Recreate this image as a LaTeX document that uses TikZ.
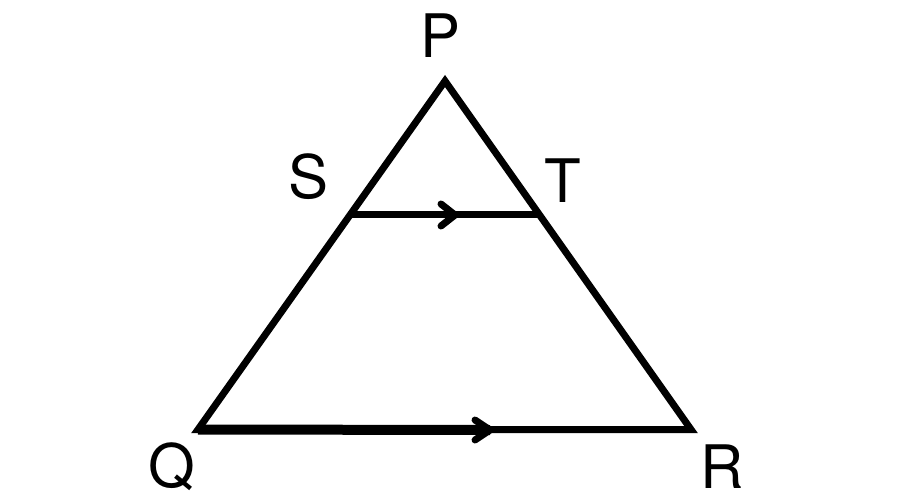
\documentclass[tikz,border=0pt]{standalone}
\usepackage{fontspec}
\setmainfont{TeX Gyre Heros}
\begin{document}
\begin{tikzpicture}[x=1pt,y=-1pt,
  side/.style={line width=7pt,line join=miter,black},
  thickside/.style={line width=10pt,black},
  chev/.style={line width=7pt,line cap=round,line join=round,black},
  lbl/.style={inner sep=0pt,anchor=base,font=\fontsize{60}{70}\selectfont}]
\useasboundingbox (0,0) rectangle (917,502);
\coordinate (P) at (445,81);
\coordinate (Q) at (198,429.5);
\coordinate (R) at (691,429.5);
\coordinate (S) at (350,215);
\coordinate (T) at (539.6,215);
\coordinate (a1) at (455,215);
\coordinate (a2) at (490,430);
\draw[side] (P) -- (Q) -- (R) -- cycle;
\draw[thickside] (Q) -- (a2);
\draw[side] (S) -- (T);
\draw[chev] (a1) ++(-14,-11) -- (a1) -- ++(-14,11);
\draw[chev] (a2) ++(-15,-10) -- (a2) -- ++(-15,10);
\node[lbl] (lP) at (441,58) {P};
\node[lbl] (lS) at (309,199) {S};
\node[lbl] (lT) at (563,203) {T};
\node[lbl] (lQ) at (172,487) {Q};
\node[lbl] (lR) at (722,488) {R};
\end{tikzpicture}
\end{document}
